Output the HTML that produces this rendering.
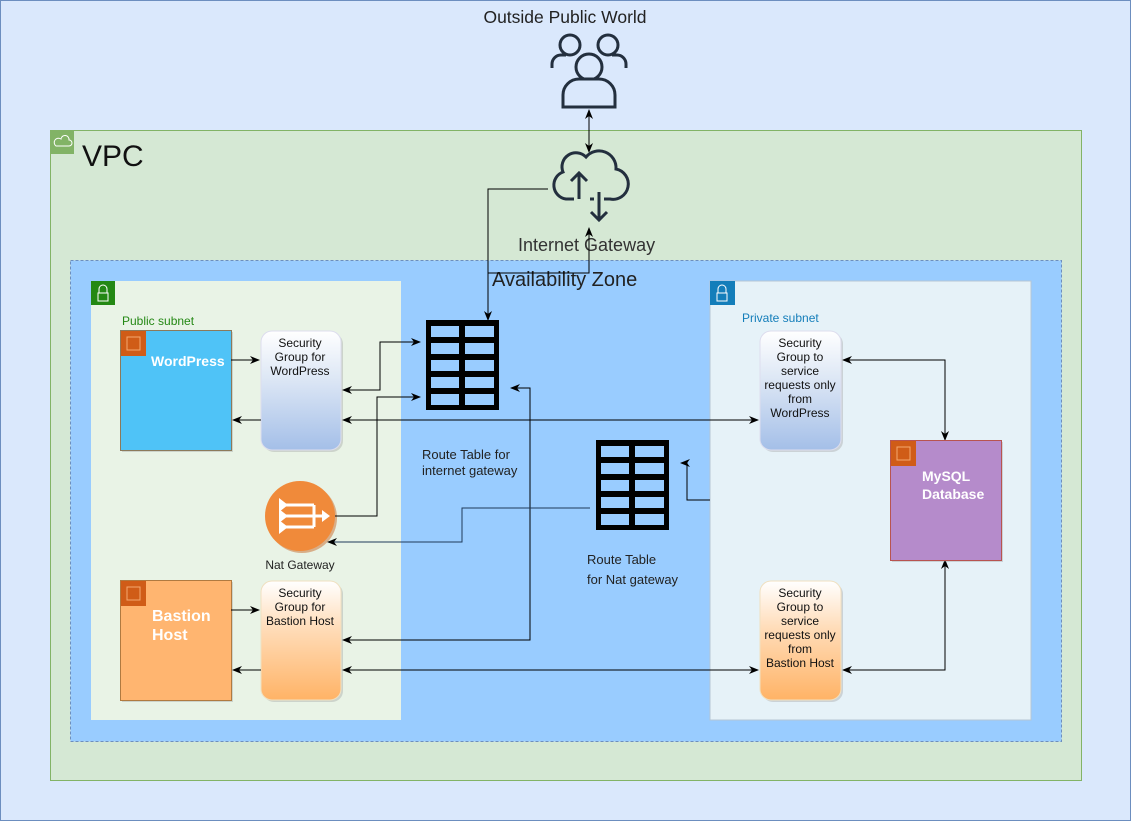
<!DOCTYPE html>
<html><head><meta charset="utf-8"><style>
html,body{margin:0;padding:0;background:#dae8fc;}
svg{display:block;}
text{font-family:"Liberation Sans",Arial,sans-serif;}
</style></head><body>
<svg width="1131" height="821" viewBox="0 0 1131 821" xmlns="http://www.w3.org/2000/svg">
<defs>
<marker id="a" viewBox="0 0 10 10" refX="9" refY="5" markerWidth="10" markerHeight="10" orient="auto-start-reverse"><path d="M0,1 L10,5 L0,9 L3,5 z" fill="#000"/></marker>
<linearGradient id="gb" x1="0" y1="0" x2="0" y2="1"><stop offset="0" stop-color="#ffffff"/><stop offset="0.4" stop-color="#dde7f5"/><stop offset="1" stop-color="#a4bfe8"/></linearGradient>
<linearGradient id="go" x1="0" y1="0" x2="0" y2="1"><stop offset="0" stop-color="#ffffff"/><stop offset="0.4" stop-color="#ffdcb8"/><stop offset="1" stop-color="#ffb366"/></linearGradient>
</defs>
<rect x="0.5" y="0.5" width="1130" height="820" fill="#dae8fc" stroke="#6c8ebf"/>
<rect x="50.5" y="130.5" width="1031" height="650" fill="#d5e8d4" stroke="#82b366"/>
<rect x="51" y="131" width="23" height="23" fill="#82b366"/>
<path d="M56,146 h13 a3,3 0 0 0 0,-6 a4,4 0 0 0 -8,-1 a3,3 0 0 0 -5,7z" fill="none" stroke="#fff" stroke-width="1"/>
<text x="82" y="166" font-size="30" fill="#111">VPC</text>
<rect x="70.5" y="260.5" width="991" height="481" fill="#99ccff" stroke="#6c8ebf" stroke-dasharray="3,2"/>
<rect x="91" y="281" width="310" height="439" fill="#e9f3e6"/>
<rect x="91" y="281" width="24" height="24" fill="#248814"/>
<path d="M99,293 v-4 a4,4 0 0 1 8,0 v4 M98,293 h10 v8 h-10z" fill="none" stroke="#fff" stroke-width="1"/>
<text x="122" y="325" font-size="12" fill="#248814">Public subnet</text>
<rect x="710" y="281" width="321" height="439" fill="#e6f2f8" stroke="#b5c6d4"/>
<rect x="710" y="281" width="25" height="24" fill="#147eba"/>
<path d="M718,293 v-4 a4,4 0 0 1 8,0 v4 M717,293 h10 v8 h-10z" fill="none" stroke="#fff" stroke-width="1"/>
<text x="742" y="322" font-size="12" fill="#147eba">Private subnet</text>

<text x="565" y="23" font-size="17.5" text-anchor="middle" fill="#222">Outside Public World</text>
<g fill="none" stroke="#232f3e" stroke-width="3">
<circle cx="570" cy="45" r="10"/><path d="M552,68 v-4 a9,9 0 0 1 9,-9 h5"/>
<circle cx="608" cy="45" r="10"/><path d="M626,68 v-4 a9,9 0 0 0 -9,-9 h-5"/>
<circle cx="589" cy="67" r="13" fill="#dae8fc"/><path d="M563,107 v-12 a16,16 0 0 1 16,-16 h20 a16,16 0 0 1 16,16 v12 z" fill="#dae8fc"/>
</g>
<line x1="589" y1="110" x2="589" y2="152" stroke="#000" marker-start="url(#a)" marker-end="url(#a)"/>
<g fill="none" stroke="#232f3e" stroke-width="3">
<path d="M574,199 h-8 a14,14 0 0 1 -3,-27 a14,14 0 0 1 23,-15 a17,17 0 0 1 30,12 a14,14 0 0 1 -6,30 h-6"/>
<path d="M579,199 v-26 M571,181 l8,-8 l8,8"/>
<path d="M590,199 h4"/>
<path d="M599,192 v28 M591,212 l8,8 l8,-8"/>
</g>
<text x="518" y="251" font-size="18" fill="#333">Internet Gateway</text>
<text x="492" y="286" font-size="20" fill="#222">Availability Zone</text>
<polyline points="548,189 488,189 488,320" fill="none" stroke="#000" marker-end="url(#a)"/>
<polyline points="488,273 589,273 589,228" fill="none" stroke="#000" marker-end="url(#a)"/>

<rect x="122" y="332" width="111" height="120" fill="#999" opacity="0.35"/>
<rect x="120.5" y="330.5" width="111" height="120" fill="#4fc3f7" stroke="#8c7a5b"/>
<rect x="121" y="331" width="25" height="25" fill="#d05c17"/>
<rect x="127" y="337" width="13" height="13" fill="none" stroke="#f5a86f"/>
<text x="151" y="366" font-size="14" font-weight="bold" fill="#fff">WordPress</text>
<rect x="263" y="333" width="80" height="119" rx="11" fill="#999" opacity="0.35"/>
<rect x="261" y="331" width="80" height="119" rx="11" fill="url(#gb)" stroke="#dde"/>
<text font-size="12" text-anchor="middle" fill="#111"><tspan x="300" y="347">Security</tspan><tspan x="300" y="361">Group for</tspan><tspan x="300" y="375">WordPress</tspan></text>
<line x1="231" y1="360" x2="259" y2="360" stroke="#000" marker-end="url(#a)"/>
<line x1="261" y1="420" x2="233" y2="420" stroke="#000" marker-end="url(#a)"/>

<rect x="122" y="582" width="111" height="120" fill="#999" opacity="0.35"/>
<rect x="120.5" y="580.5" width="111" height="120" fill="#ffb570" stroke="#b07a40"/>
<rect x="121" y="581" width="25" height="25" fill="#d05c17"/>
<rect x="127" y="587" width="13" height="13" fill="none" stroke="#f5a86f"/>
<text font-size="16" font-weight="bold" fill="#fff"><tspan x="152" y="621">Bastion</tspan><tspan x="152" y="640">Host</tspan></text>
<rect x="263" y="583" width="80" height="119" rx="11" fill="#999" opacity="0.35"/>
<rect x="261" y="581" width="80" height="119" rx="11" fill="url(#go)" stroke="#f0e0c0"/>
<text font-size="12" text-anchor="middle" fill="#111"><tspan x="300" y="597">Security</tspan><tspan x="300" y="611">Group for</tspan><tspan x="300" y="625">Bastion Host</tspan></text>
<line x1="231" y1="610" x2="259" y2="610" stroke="#000" marker-end="url(#a)"/>
<line x1="261" y1="670" x2="233" y2="670" stroke="#000" marker-end="url(#a)"/>

<circle cx="302" cy="518" r="35" fill="#c86a2a" opacity="0.5"/>
<circle cx="300" cy="516" r="35" fill="#f08a3a"/>
<g fill="none" stroke="#fff" stroke-width="3"><path d="M284,505 h30 M284,516 h42 M284,527 h30 M314,505 v22"/></g>
<g fill="#fff"><path d="M279,498 l9,7 l-9,7z M279,509 l9,7 l-9,7z M279,520 l9,7 l-9,7z M322,510 l8,6 l-8,6z"/></g>
<text x="300" y="569" font-size="12" text-anchor="middle" fill="#222">Nat Gateway</text>

<g fill="#000">
<rect x="426" y="320" width="73" height="90"/>
<rect x="596" y="440" width="73" height="90"/>
</g>
<g fill="#99ccff">
<rect x="431" y="326" width="28" height="11"/><rect x="465" y="326" width="29" height="11"/>
<rect x="431" y="343" width="28" height="11"/><rect x="465" y="343" width="29" height="11"/>
<rect x="431" y="360" width="28" height="11"/><rect x="465" y="360" width="29" height="11"/>
<rect x="431" y="377" width="28" height="11"/><rect x="465" y="377" width="29" height="11"/>
<rect x="431" y="394" width="28" height="11"/><rect x="465" y="394" width="29" height="11"/>
<rect x="601" y="446" width="28" height="11"/><rect x="635" y="446" width="29" height="11"/>
<rect x="601" y="463" width="28" height="11"/><rect x="635" y="463" width="29" height="11"/>
<rect x="601" y="480" width="28" height="11"/><rect x="635" y="480" width="29" height="11"/>
<rect x="601" y="497" width="28" height="11"/><rect x="635" y="497" width="29" height="11"/>
<rect x="601" y="514" width="28" height="11"/><rect x="635" y="514" width="29" height="11"/>
</g>
<text font-size="13" fill="#222"><tspan x="422" y="459">Route Table for</tspan><tspan x="422" y="475">internet gateway</tspan></text>
<text font-size="13" fill="#222"><tspan x="587" y="564">Route Table</tspan><tspan x="587" y="584">for Nat gateway</tspan></text>

<g fill="none" stroke="#000" stroke-width="1">
<polyline points="343,390 380,390 380,342 420,342" marker-start="url(#a)" marker-end="url(#a)"/>
<polyline points="335,516 377,516 377,397 420,397" marker-end="url(#a)"/>
<line x1="343" y1="420" x2="758" y2="420" marker-start="url(#a)" marker-end="url(#a)"/>
<polyline points="343,640 530,640 530,388 511,388" marker-start="url(#a)" marker-end="url(#a)"/>
<polyline points="590,508 462,508 462,542 328,542" stroke="#1f3a5a" marker-end="url(#a)"/>
<polyline points="710,500 687,500 687,463 681,463" marker-end="url(#a)"/>
<line x1="343" y1="670" x2="758" y2="670" marker-start="url(#a)" marker-end="url(#a)"/>
<polyline points="843,360 945,360 945,440" marker-start="url(#a)" marker-end="url(#a)"/>
<polyline points="843,670 945,670 945,560" marker-start="url(#a)" marker-end="url(#a)"/>
</g>

<rect x="762" y="333" width="81" height="119" rx="11" fill="#999" opacity="0.35"/>
<rect x="760" y="331" width="81" height="119" rx="11" fill="url(#gb)" stroke="#dde"/>
<text font-size="12" text-anchor="middle" fill="#111"><tspan x="800" y="347">Security</tspan><tspan x="800" y="361">Group to</tspan><tspan x="800" y="375">service</tspan><tspan x="800" y="389">requests only</tspan><tspan x="800" y="403">from</tspan><tspan x="800" y="417">WordPress</tspan></text>
<rect x="762" y="583" width="81" height="119" rx="11" fill="#999" opacity="0.35"/>
<rect x="760" y="581" width="81" height="119" rx="11" fill="url(#go)" stroke="#f0e0c0"/>
<text font-size="12" text-anchor="middle" fill="#111"><tspan x="800" y="597">Security</tspan><tspan x="800" y="611">Group to</tspan><tspan x="800" y="625">service</tspan><tspan x="800" y="639">requests only</tspan><tspan x="800" y="653">from</tspan><tspan x="800" y="667">Bastion Host</tspan></text>

<rect x="892" y="442" width="111" height="120" fill="#999" opacity="0.35"/>
<rect x="890.5" y="440.5" width="111" height="120" fill="#b58bcb" stroke="#b85450"/>
<rect x="891" y="441" width="25" height="25" fill="#d05c17"/>
<rect x="897" y="447" width="13" height="13" fill="none" stroke="#f5a86f"/>
<text font-size="14" font-weight="bold" fill="#fff"><tspan x="922" y="481">MySQL</tspan><tspan x="922" y="499">Database</tspan></text>
</svg>
</body></html>
